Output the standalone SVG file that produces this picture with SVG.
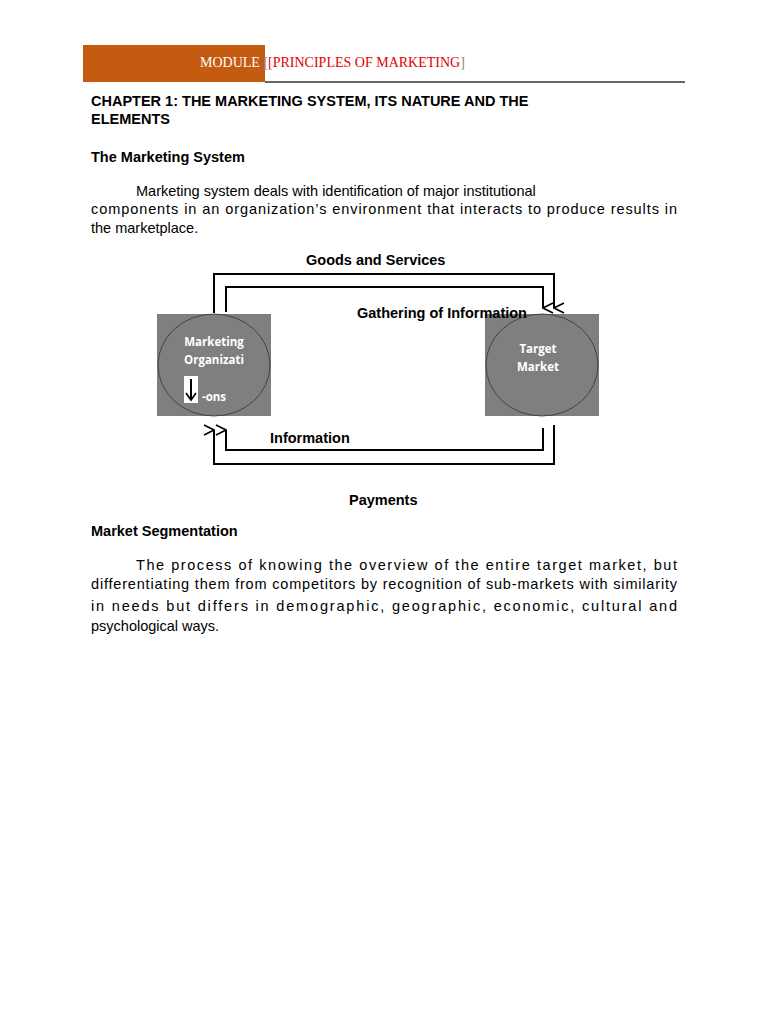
<svg xmlns="http://www.w3.org/2000/svg" width="768" height="1024" viewBox="0 0 768 1024">
<style>
.b{font-family:"Liberation Sans",Arial,sans-serif;font-size:14.5px;fill:#000}
.h{font-family:"Liberation Sans",Arial,sans-serif;font-size:14.5px;font-weight:bold;fill:#000}
.n{font-family:"Open Sans","Liberation Sans",sans-serif;font-size:11.5px;font-weight:bold;fill:#fff;text-anchor:middle}
.c{fill:none;stroke:#000;stroke-width:2}
</style>
<defs><marker id="a" markerWidth="12" markerHeight="12" refX="6" refY="11" orient="auto-start-reverse" markerUnits="userSpaceOnUse" viewBox="0 0 12 12"><path d="M1,1 L6,11 L11,1" fill="none" stroke="#000" stroke-width="1.6"/></marker></defs>
<rect width="768" height="1024" fill="#fff"/>
<rect x="83" y="45" width="182" height="37" fill="#c55a11"/>
<line x1="265" y1="82" x2="685" y2="82" stroke="#333" stroke-width="1.5"/>
<text x="200" y="67" font-family="Liberation Serif,serif" font-size="14"><tspan fill="#fff">MODULE </tspan><tspan fill="#888">[</tspan><tspan fill="#e00000">[PRINCIPLES OF MARKETING</tspan><tspan fill="#888">]</tspan></text>
<text class="h" x="91" y="106">CHAPTER 1: THE MARKETING SYSTEM, ITS NATURE AND THE</text>
<text class="h" x="91" y="124">ELEMENTS</text>
<text class="h" x="91" y="162">The Marketing System</text>
<text class="b" x="136" y="196">Marketing    system    deals    with    identification    of    major    institutional</text>
<text class="b" x="91" y="214" textLength="586">components in an organization’s environment that interacts to produce results in</text>
<text class="b" x="91" y="233">the marketplace.</text>
<text class="h" x="306" y="265">Goods and Services</text>
<g id="org"><rect x="157" y="314" width="114" height="102" fill="#7f7f7f"/><ellipse cx="214" cy="365" rx="56" ry="51" fill="#7f7f7f" stroke="#333" stroke-width="0.8"/>
<text class="n" x="214" y="346">Marketing</text><text class="n" x="214" y="364">Organizati</text>
<rect x="184" y="376" width="14" height="27" fill="#fff"/><line x1="191" y1="379" x2="191" y2="399" stroke="#000" stroke-width="2"/><path d="M186,393 L191,400 L196,393" fill="none" stroke="#000" stroke-width="1.6"/>
<text class="n" x="214" y="401">-ons</text></g>
<g id="target"><rect x="485" y="314" width="114" height="102" fill="#7f7f7f"/><ellipse cx="542" cy="365" rx="56" ry="51" fill="#7f7f7f" stroke="#333" stroke-width="0.8"/>
<text class="n" x="538" y="353">Target</text><text class="n" x="538" y="371">Market</text></g>
<g id="connectors">
<path class="c" d="M214,313 V274 H554 V308" marker-end="url(#a)"/>
<path class="c" d="M226,312 V287 H543 V308" marker-end="url(#a)"/>
<path class="c" d="M543,428 V450 H226 V430" marker-end="url(#a)"/>
<path class="c" d="M554,425 V464 H214 V430" marker-end="url(#a)"/>
</g>
<text class="h" x="357" y="318">Gathering of Information</text>
<text class="h" x="270" y="443">Information</text>
<text class="h" x="349" y="505">Payments</text>
<text class="h" x="91" y="536">Market Segmentation</text>
<text class="b" x="136" y="570" textLength="541">The process of knowing the overview of the entire target market, but</text>
<text class="b" x="91" y="589" textLength="586">differentiating them from competitors by recognition of sub-markets with similarity</text>
<text class="b" x="91" y="611" textLength="586">in needs but differs in demographic, geographic, economic, cultural and</text>
<text class="b" x="91" y="631">psychological ways.</text>
</svg>
